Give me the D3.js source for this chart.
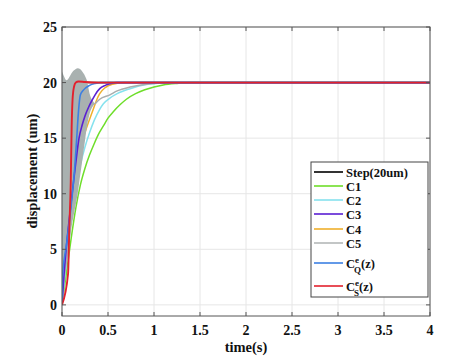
<!DOCTYPE html>
<html><head><meta charset="utf-8">
<script src="https://cdn.jsdelivr.net/npm/d3@7"></script>
<style>body{margin:0;background:#fff}svg{display:block}</style>
</head><body><svg id="c" width="474" height="358"></svg>
<script>
const xTicks = [0,0.5,1,1.5,2,2.5,3,3.5,4];
const yTicks = [0,5,10,15,20,25];
const stepData = [[0,0],[0,20],[4,20]];
const c1 = [[0,0],[0.05,3],[0.1,6],[0.15,8.7],[0.2,10.8],[0.25,12.3],[0.3,13.5],[0.35,14.5],[0.4,15.4],[0.45,16.1],[0.5,16.8],[0.56,17.4],[0.63,18],[0.7,18.5],[0.8,19],[0.9,19.35],[1.0,19.6],[1.1,19.78],[1.25,19.92],[1.4,20],[4,20]];
const c2 = [[0,0],[0.03,2.5],[0.065,5],[0.1,7.8],[0.13,9.5],[0.16,11],[0.2,12.6],[0.25,14.2],[0.3,15.5],[0.35,16.6],[0.41,17.6],[0.45,18.1],[0.52,18.6],[0.6,19],[0.74,19.45],[0.9,19.8],[1.0,19.9],[1.2,20],[4,20]];
const c3 = [[0,0],[0.02,2.5],[0.045,5],[0.08,7.8],[0.11,10],[0.15,12.8],[0.185,15],[0.22,16.2],[0.25,17],[0.29,17.8],[0.32,18.3],[0.36,18.9],[0.41,19.45],[0.47,19.75],[0.52,19.9],[0.6,20],[4,20]];
const c4 = [[0,0],[0.005,4.8],[0.05,6.5],[0.1,9.5],[0.15,12],[0.2,14],[0.23,15],[0.27,16],[0.3,16.7],[0.34,17.6],[0.38,18.5],[0.41,19.0],[0.47,19.55],[0.55,19.85],[0.68,20],[4,20]];
const c5Times = [0,0.02,0.05,0.08,0.1,0.13,0.17,0.2,0.22,0.25,0.27,0.3,0.33,0.36];
const c5Upper = [21,20.6,20.2,20.5,20.8,21.1,21.3,21.2,21.0,20.6,20.2,19.0,18.4,18.1];
const c5Lower = [0,1.5,3.5,5.5,6.8,8.2,10,11.8,13,14.8,16,17.2,17.8,18.1];
const c5Tail = [[0.36,18.1],[0.41,18.5],[0.52,18.9],[0.6,19.25],[0.74,19.6],[0.96,19.9],[1.2,20],[4,20]];
const cq = [[0,0],[0.005,2.5],[0.05,5.5],[0.1,9],[0.13,11.5],[0.16,15],[0.18,17.5],[0.2,18.9],[0.23,19.3],[0.3,19.75],[0.36,19.92],[0.42,20],[4,20]];
const cs = [[0,0],[0.066,2.8],[0.08,7],[0.095,11],[0.105,16],[0.115,18.5],[0.13,19.6],[0.15,20],[0.18,20.1],[0.25,20.05],[0.4,20],[4,20]];

const FONT = "'Liberation Serif', serif";
const svg = d3.select("#c");
const L=62,R=430,T=27,B=316;
const x = d3.scaleLinear().domain([0,4]).range([L,R]);
const y = d3.scaleLinear().domain([-1,25]).range([B,T]);

svg.append("defs").append("clipPath").attr("id","clip").append("rect")
  .attr("x",L).attr("y",T).attr("width",R-L).attr("height",B-T);

const g = svg.append("g");
g.selectAll(".gx").data(xTicks).join("line").attr("x1",d=>x(d)).attr("x2",d=>x(d)).attr("y1",T).attr("y2",B).attr("stroke","#e6e6e6").attr("stroke-width",1);
g.selectAll(".gy").data(yTicks).join("line").attr("y1",d=>y(d)).attr("y2",d=>y(d)).attr("x1",L).attr("x2",R).attr("stroke","#e6e6e6").attr("stroke-width",1);

const plot = svg.append("g").attr("clip-path","url(#clip)");
const line = d3.line().x(d=>x(d[0])).y(d=>y(d[1])).curve(d3.curveMonotoneX);
const lineStep = d3.line().x(d=>x(d[0])).y(d=>y(d[1]));
function draw(data,color,w,gen){plot.append("path").attr("d",(gen||line)(data)).attr("fill","none").attr("stroke",color).attr("stroke-width",w).attr("stroke-linejoin","round");}

draw(stepData,"#000",1.5,lineStep);
draw(c1,"#6ede2a",1.5);
draw(c2,"#86e2ee",1.5);
draw(c4,"#efb02c",1.5);
const c5Area = c5Times.map((t,i)=>({t:t,u:c5Upper[i],l:c5Lower[i]}));
plot.append("path").attr("d",d3.area().x(d=>x(d.t)).y0(d=>y(d.l)).y1(d=>y(d.u)).curve(d3.curveMonotoneX)(c5Area))
  .attr("fill","#a9b1b0").attr("stroke","none");
draw(c5Tail,"#a9adad",1.5);
draw(c3,"#5a1fd2",1.6);
draw(cq,"#3b7fe3",1.6);
draw(cs,"#e3202c",1.9);

const ax = svg.append("g").attr("stroke","#555").attr("stroke-width",1).attr("fill","none");
ax.append("rect").attr("x",L).attr("y",T).attr("width",R-L).attr("height",B-T);
xTicks.forEach(t=>{ax.append("line").attr("x1",x(t)).attr("x2",x(t)).attr("y1",B).attr("y2",B-4);ax.append("line").attr("x1",x(t)).attr("x2",x(t)).attr("y1",T).attr("y2",T+4);});
yTicks.forEach(t=>{ax.append("line").attr("y1",y(t)).attr("y2",y(t)).attr("x1",L).attr("x2",L+4);ax.append("line").attr("y1",y(t)).attr("y2",y(t)).attr("x1",R).attr("x2",R-4);});

function txt(sel){return sel.attr("font-family",FONT).attr("font-weight","bold").attr("fill","#111");}
txt(svg.selectAll(".xl").data(xTicks).join("text")).attr("x",d=>x(d)).attr("y",B+19).attr("text-anchor","middle").attr("font-size",14).text(d=>d);
txt(svg.selectAll(".yl").data(yTicks).join("text")).attr("x",L-5).attr("y",d=>y(d)+5).attr("text-anchor","end").attr("font-size",14).text(d=>d);
txt(svg.append("text")).attr("x",246).attr("y",352).attr("text-anchor","middle").attr("font-size",14.5).text("time(s)");
txt(svg.append("text")).attr("transform","translate(37,171) rotate(-90)").attr("text-anchor","middle").attr("font-size",14.5).text("displacement (um)");

const legendNames = ["Step(20um)","C1","C2","C3","C4","C5","CQ","CS"];
const legendColors = ["#000","#6ede2a","#86e2ee","#5a1fd2","#efb02c","#b5b8b8","#3b7fe3","#e3202c"];
const legendY = [172,186,200,214,229,243,263,286];
const lg = svg.append("g");
lg.append("rect").attr("x",311).attr("y",162).attr("width",117).attr("height",135).attr("fill","#fff").attr("stroke","#444").attr("stroke-width",1);
legendNames.forEach((n,i)=>{
  lg.append("line").attr("x1",314).attr("x2",343).attr("y1",legendY[i]).attr("y2",legendY[i]).attr("stroke",legendColors[i]).attr("stroke-width",1.6);
  const t = txt(lg.append("text")).attr("x",346).attr("y",legendY[i]+4.5).attr("font-size",12.5);
  if(i<6){t.text(n);}
  else{
    t.append("tspan").text("C");
    t.append("tspan").attr("dy",-5).attr("font-size",9).text("e");
    t.append("tspan").attr("dx",-5).attr("dy",10).attr("font-size",9).text(n==="CQ"?"Q":"S");
    t.append("tspan").attr("dy",-5).text("(z)");
  }
});
</script></body></html>
